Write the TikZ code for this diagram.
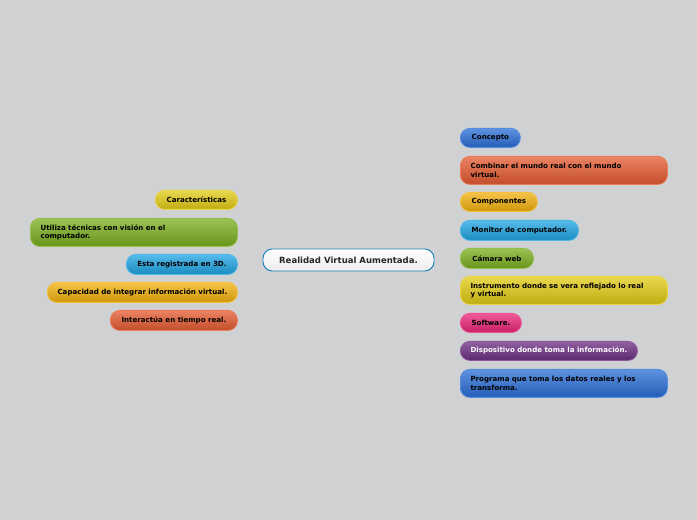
\documentclass[tikz,border=0pt]{standalone}
\usepackage{fontspec}
\setmainfont{DejaVu Sans}
\usetikzlibrary{backgrounds}
\definecolor{bg}{HTML}{D0D1D3}
\definecolor{cblue}{HTML}{2A6ED6}
\definecolor{cred}{HTML}{E55A30}
\definecolor{corange}{HTML}{F2B00C}
\definecolor{ccyan}{HTML}{1EA4E2}
\definecolor{cgreen}{HTML}{7AAE1E}
\definecolor{cyellow}{HTML}{E2CB14}
\definecolor{cpink}{HTML}{EA2478}
\definecolor{cpurple}{HTML}{6C2D82}
\tikzset{
 px/.style={x=0.75pt,y=-0.75pt},
 box/.style={rounded corners=7pt, draw=#1!80!white, line width=0.6pt, top color=#1!75!white, bottom color=#1!85!black, font=\bfseries\fontsize{5.3}{6.2}\selectfont, inner sep=0pt, anchor=north west},
 link/.style={draw=#1, line width=0.9pt},
}
\newcommand{\bx}[8]{% name color l t r b text align
 \pgfmathsetmacro{\w}{(#5-#3)*0.75}\pgfmathsetmacro{\h}{(#6-#4)*0.75}
 \node[box=#2, minimum width=\w pt, minimum height=\h pt] (#1) at (#3,#4) {};
 \node[font=\bfseries\fontsize{5.3}{6.2}\selectfont, align=left, #8] at (#1) {#7};}
\begin{document}
\begin{tikzpicture}[px]
\fill[bg] (0,0) rectangle (697,520);
\useasboundingbox (0,0) rectangle (697,520);
\node[rounded corners=7pt, draw=ccyan!80!black, line width=0.7pt, top color=white, bottom color=gray!15, minimum width=128.25pt, minimum height=16.5pt, font=\bfseries\fontsize{6.4}{7.5}\selectfont, inner sep=0pt, text=black!85] (c) at (348.5,260) {Realidad Virtual Aumentada.};
\coordinate (cr) at (378,260);
\coordinate (cl) at (318,260);
% right
\bx{r1}{cblue}{460}{128}{520}{147}{Concepto}{}
\bx{r2}{cred}{460}{156}{667}{184}{Combinar el mundo real con el mundo\\virtual.}{text width=140pt}
\bx{r3}{corange}{460}{192}{537}{211}{Componentes}{}
\bx{r4}{ccyan}{460}{220}{578}{240}{Monitor de computador.}{}
\bx{r5}{cgreen}{460}{248}{533}{268}{Cámara web}{}
\bx{r6}{cyellow}{460}{276}{667}{304}{Instrumento donde se vera reflejado lo real\\y virtual.}{text width=140pt}
\bx{r7}{cpink}{460}{313}{521}{332}{Software.}{}
\bx{r8}{cpurple}{460}{341}{637}{360}{Dispositivo donde toma la información.}{text=white}
\bx{r9}{cblue}{460}{369}{667}{397}{Programa que toma los datos reales y los\\transforma.}{text width=140pt}
% left
\bx{l1}{cyellow}{155}{190}{237}{209}{Características}{}
\bx{l2}{cgreen}{30}{218}{237}{246}{Utiliza técnicas con visión en el\\computador.}{text width=140pt}
\bx{l3}{ccyan}{126}{254}{237}{274}{Esta registrada en 3D.}{}
\bx{l4}{corange}{47}{282}{237}{302}{Capacidad de integrar información virtual.}{}
\bx{l5}{cred}{110}{310}{237}{330}{Interactúa en tiempo real.}{}
\begin{pgfonlayer}{background}
\foreach \n/\c in {r1/cblue,r2/cred,r3/corange,r4/ccyan,r5/cgreen,r6/cyellow,r7/cpink,r8/cpurple,r9/cblue}
  \draw[link=\c] (cr) .. controls (420,260) and (400,0|-\n.west) .. (\n.west);
\foreach \n/\c in {l1/cyellow,l2/cgreen,l3/ccyan,l4/corange,l5/cred}
  \draw[link=\c] (cl) .. controls (285,260) and (290,0|-\n.east) .. (\n.east);
\end{pgfonlayer}
\end{tikzpicture}
\end{document}
